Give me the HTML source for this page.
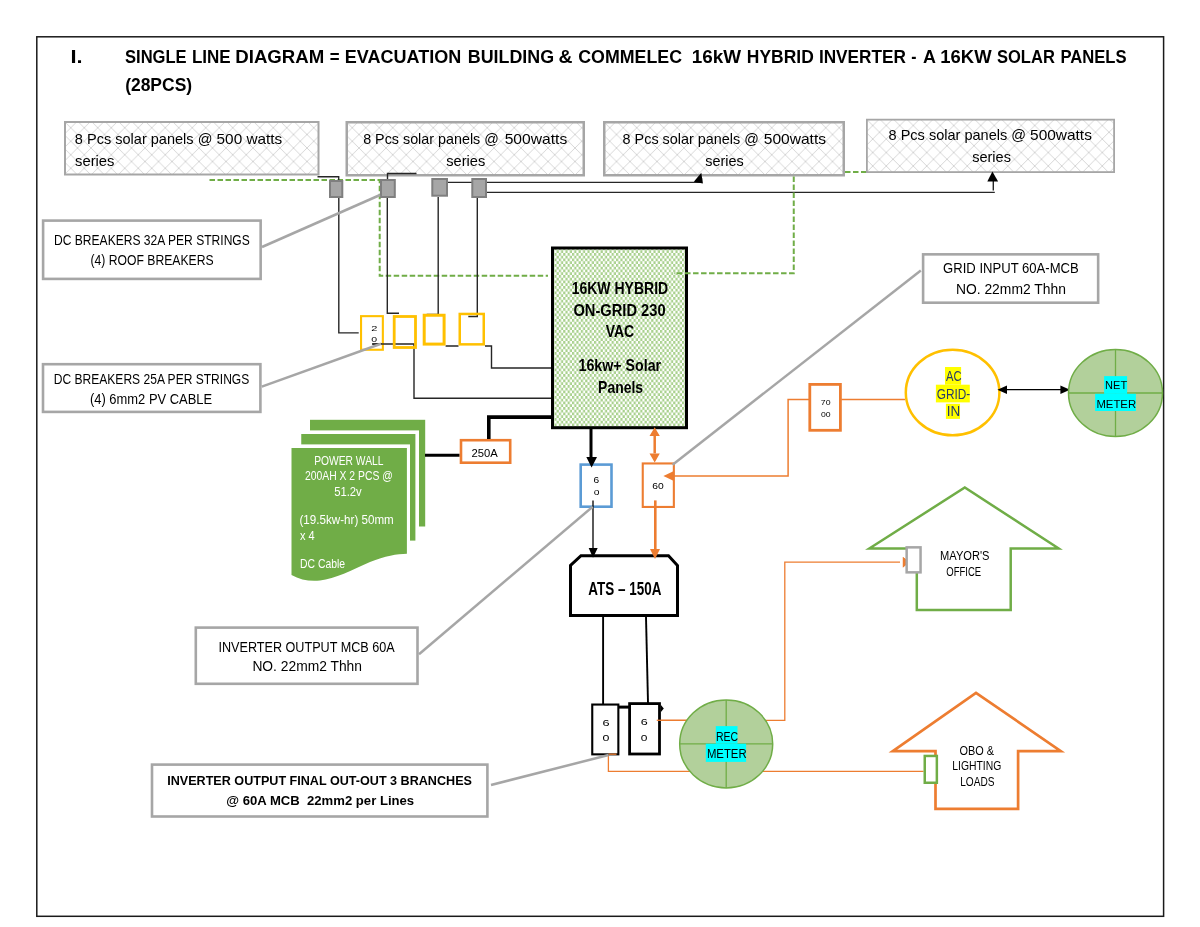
<!DOCTYPE html>
<html><head><meta charset="utf-8"><style>
html,body{margin:0;padding:0;background:#fff;width:1200px;height:927px;overflow:hidden}
svg{display:block;font-family:"Liberation Sans",sans-serif;will-change:transform}
text{white-space:pre}
</style></head><body>
<svg xml:space="preserve" width="1200" height="927" viewBox="0 0 1200 927">
<defs>
<pattern id="dots" width="4.4" height="5.5" patternUnits="userSpaceOnUse">
<rect width="4.4" height="5.5" fill="#fff"/>
<rect width="2.2" height="2.75" fill="#a9d18e"/><rect x="2.2" y="2.75" width="2.2" height="2.75" fill="#a9d18e"/>
</pattern>
</defs>
<rect width="1200" height="927" fill="#fff"/>

<rect x="36.8" y="36.8" width="1126.8" height="879.5" fill="none" stroke="#1a1a1a" stroke-width="1.5"/>
<text x="70.59" y="62.8" font-size="18.2" textLength="12.09" lengthAdjust="spacingAndGlyphs" font-weight="bold">I.</text>
<text x="125.0" y="62.8" font-size="18.2" textLength="61.62" lengthAdjust="spacingAndGlyphs" font-weight="bold">SINGLE</text>
<text x="191.89" y="62.8" font-size="18.2" textLength="38.75" lengthAdjust="spacingAndGlyphs" font-weight="bold">LINE</text>
<text x="235.29" y="62.8" font-size="18.2" textLength="88.97" lengthAdjust="spacingAndGlyphs" font-weight="bold">DIAGRAM</text>
<text x="329.83" y="62.8" font-size="18.2" textLength="9.83" lengthAdjust="spacingAndGlyphs" font-weight="bold">=</text>
<text x="344.83" y="62.8" font-size="18.2" textLength="116.4" lengthAdjust="spacingAndGlyphs" font-weight="bold">EVACUATION</text>
<text x="467.84" y="62.8" font-size="18.2" textLength="86.29" lengthAdjust="spacingAndGlyphs" font-weight="bold">BUILDING</text>
<text x="558.63" y="62.8" font-size="18.2" textLength="14.0" lengthAdjust="spacingAndGlyphs" font-weight="bold">&amp;</text>
<text x="578.29" y="62.8" font-size="18.2" textLength="103.71" lengthAdjust="spacingAndGlyphs" font-weight="bold">COMMELEC</text>
<text x="691.77" y="62.8" font-size="18.2" textLength="49.27" lengthAdjust="spacingAndGlyphs" font-weight="bold">16kW</text>
<text x="746.87" y="62.8" font-size="18.2" textLength="66.89" lengthAdjust="spacingAndGlyphs" font-weight="bold">HYBRID</text>
<text x="818.88" y="62.8" font-size="18.2" textLength="86.99" lengthAdjust="spacingAndGlyphs" font-weight="bold">INVERTER</text>
<text x="911.37" y="62.8" font-size="18.2" textLength="5.22" lengthAdjust="spacingAndGlyphs" font-weight="bold">-</text>
<text x="923.05" y="62.8" font-size="18.2" textLength="12.93" lengthAdjust="spacingAndGlyphs" font-weight="bold">A</text>
<text x="940.3" y="62.8" font-size="18.2" textLength="51.26" lengthAdjust="spacingAndGlyphs" font-weight="bold">16KW</text>
<text x="997.0" y="62.8" font-size="18.2" textLength="57.83" lengthAdjust="spacingAndGlyphs" font-weight="bold">SOLAR</text>
<text x="1060.42" y="62.8" font-size="18.2" textLength="66.2" lengthAdjust="spacingAndGlyphs" font-weight="bold">PANELS</text>
<text x="125.13" y="91.3" font-size="18.2" textLength="66.99" lengthAdjust="spacingAndGlyphs" font-weight="bold">(28PCS)</text>
<defs><pattern id="hatch1" x="64" y="121" width="13.5" height="13.5" patternUnits="userSpaceOnUse"><path d="M0,0 L13.5,13.5 M13.5,0 L0,13.5" stroke="#d2d2d2" stroke-width="0.9" fill="none"/></pattern></defs>
<rect x="65.0" y="122.0" width="253.5" height="52.5" fill="url(#hatch1)" stroke="#a6a6a6" stroke-width="2"/>
<text x="74.85" y="143.9" font-size="14.8" textLength="137.58" lengthAdjust="spacingAndGlyphs">8 Pcs solar panels @</text>
<text x="216.59" y="143.9" font-size="14.8" textLength="65.71" lengthAdjust="spacingAndGlyphs">500 watts</text>
<text x="75.06" y="165.6" font-size="14.8" textLength="39.42" lengthAdjust="spacingAndGlyphs">series</text>
<defs><pattern id="hatch2" x="345.5" y="121" width="13.5" height="13.5" patternUnits="userSpaceOnUse"><path d="M0,0 L13.5,13.5 M13.5,0 L0,13.5" stroke="#d2d2d2" stroke-width="0.9" fill="none"/></pattern></defs>
<rect x="346.75" y="122.25" width="237.0" height="53.0" fill="url(#hatch2)" stroke="#a6a6a6" stroke-width="2.5"/>
<text x="363.16" y="143.9" font-size="14.8" textLength="135.65" lengthAdjust="spacingAndGlyphs">8 Pcs solar panels @</text>
<text x="504.67" y="143.9" font-size="14.8" textLength="62.58" lengthAdjust="spacingAndGlyphs">500watts</text>
<text x="446.26" y="165.6" font-size="14.8" textLength="39.02" lengthAdjust="spacingAndGlyphs">series</text>
<defs><pattern id="hatch3" x="603" y="121" width="13.5" height="13.5" patternUnits="userSpaceOnUse"><path d="M0,0 L13.5,13.5 M13.5,0 L0,13.5" stroke="#d2d2d2" stroke-width="0.9" fill="none"/></pattern></defs>
<rect x="604.25" y="122.25" width="239.5" height="53.0" fill="url(#hatch3)" stroke="#a6a6a6" stroke-width="2.5"/>
<text x="622.6" y="143.9" font-size="14.8" textLength="136.21" lengthAdjust="spacingAndGlyphs">8 Pcs solar panels @</text>
<text x="763.78" y="143.9" font-size="14.8" textLength="62.23" lengthAdjust="spacingAndGlyphs">500watts</text>
<text x="705.32" y="165.6" font-size="14.8" textLength="38.45" lengthAdjust="spacingAndGlyphs">series</text>
<defs><pattern id="hatch4" x="866" y="118.75" width="13.5" height="13.5" patternUnits="userSpaceOnUse"><path d="M0,0 L13.5,13.5 M13.5,0 L0,13.5" stroke="#d2d2d2" stroke-width="0.9" fill="none"/></pattern></defs>
<rect x="866.9" y="119.65" width="247.2" height="52.45" fill="url(#hatch4)" stroke="#a6a6a6" stroke-width="1.8"/>
<text x="888.55" y="140.3" font-size="14.8" textLength="137.47" lengthAdjust="spacingAndGlyphs">8 Pcs solar panels @</text>
<text x="1030.08" y="140.3" font-size="14.8" textLength="61.82" lengthAdjust="spacingAndGlyphs">500watts</text>
<text x="972.16" y="162" font-size="14.8" textLength="38.81" lengthAdjust="spacingAndGlyphs">series</text>
<path d="M209.5,180 H379.7 V275.8 H548" fill="none" stroke="#70ad47" stroke-width="2" stroke-dasharray="5.5,2.5"/>
<path d="M845,172 H866" fill="none" stroke="#70ad47" stroke-width="2" stroke-dasharray="5.5,2.5"/>
<path d="M317.5,176.7 H338.7 V180" fill="none" stroke="#262626" stroke-width="1.4"/>
<path d="M387.5,180 V173.5 H416.5" fill="none" stroke="#262626" stroke-width="1.4"/>
<path d="M338.8,198 V332.9 H358.7" fill="none" stroke="#262626" stroke-width="1.4"/>
<path d="M387.3,198 V313.3 H399" fill="none" stroke="#262626" stroke-width="1.4"/>
<path d="M438.2,197 V314.4 H426.7" fill="none" stroke="#262626" stroke-width="1.4"/>
<path d="M477.3,198 V316.5 H468.3" fill="none" stroke="#262626" stroke-width="1.4"/>
<path d="M448,182.4 H701.5 V178" fill="none" stroke="#262626" stroke-width="1.4"/>
<path d="M693.8,181.8 L701.3,172.8 L702.9,183.6 Z" fill="#000"/>
<path d="M487,192.4 H994.8 M993.3,190.6 V181" fill="none" stroke="#262626" stroke-width="1.4"/>
<path d="M987.3,181.6 L998.1,181.6 L992.4,171.4 Z" fill="#000"/>
<path d="M372.2,344 H414 V398.3 H551" fill="none" stroke="#262626" stroke-width="1.4"/>
<path d="M445.6,346 H458.5 M485,346 H491.5 V368 H551" fill="none" stroke="#262626" stroke-width="1.4"/>
<rect x="330" y="181" width="12.300000000000011" height="16" fill="#a6a6a6" stroke="#7f7f7f" stroke-width="2"/>
<rect x="381" y="180" width="13.800000000000011" height="17" fill="#a6a6a6" stroke="#7f7f7f" stroke-width="2"/>
<rect x="432.3" y="179" width="14.699999999999989" height="16.69999999999999" fill="#a6a6a6" stroke="#7f7f7f" stroke-width="2"/>
<rect x="472.3" y="179" width="13.699999999999989" height="18" fill="#a6a6a6" stroke="#7f7f7f" stroke-width="2"/>
<rect x="361.05" y="316.15000000000003" width="21.799999999999976" height="33.59999999999999" fill="none" stroke="#ffc000" stroke-width="2.1"/>
<rect x="394.2" y="316.5" width="21.299999999999965" height="30.999999999999954" fill="none" stroke="#ffc000" stroke-width="2.8"/>
<rect x="424.2" y="315.25" width="19.900000000000034" height="28.850000000000023" fill="none" stroke="#ffc000" stroke-width="3"/>
<rect x="459.75" y="313.95" width="24.0" height="30.400000000000034" fill="none" stroke="#ffc000" stroke-width="2.5"/>
<text x="371.25" y="330.6" font-size="8" textLength="6.11" lengthAdjust="spacingAndGlyphs">2</text>
<text x="371.38" y="342.1" font-size="8" textLength="5.85" lengthAdjust="spacingAndGlyphs">0</text>
<path d="M372.2,344 H384" fill="none" stroke="#262626" stroke-width="1.4"/>
<rect x="43.099999999999994" y="220.60000000000002" width="217.54999999999998" height="58.299999999999976" fill="#fff" stroke="#a6a6a6" stroke-width="2.6"/>
<text x="54.03" y="245" font-size="14.4" textLength="195.79" lengthAdjust="spacingAndGlyphs">DC BREAKERS 32A PER STRINGS</text>
<text x="90.52" y="264.5" font-size="14.4" textLength="123.07" lengthAdjust="spacingAndGlyphs">(4) ROOF BREAKERS</text>
<path d="M262,247 L380,195" stroke="#a6a6a6" stroke-width="2.5" fill="none"/>
<rect x="42.99999999999999" y="364.20000000000005" width="217.4" height="47.69999999999995" fill="#fff" stroke="#a6a6a6" stroke-width="2.6"/>
<text x="53.79" y="384.3" font-size="14.4" textLength="195.49" lengthAdjust="spacingAndGlyphs">DC BREAKERS 25A PER STRINGS</text>
<text x="89.97" y="404" font-size="14.4" textLength="122.18" lengthAdjust="spacingAndGlyphs">(4) 6mm2 PV CABLE</text>
<path d="M261.8,386.6 L381,343.8" stroke="#a6a6a6" stroke-width="2.5" fill="none"/>
<rect x="552.5" y="248" width="134" height="179.7" fill="url(#dots)" stroke="#000" stroke-width="3"/>
<path d="M793.75,176.5 V273.3 H674" fill="none" stroke="#70ad47" stroke-width="2" stroke-dasharray="5.5,2.5"/>
<text x="571.69" y="294" font-size="17.3" textLength="96.47" lengthAdjust="spacingAndGlyphs" font-weight="bold">16KW HYBRID</text>
<text x="573.41" y="315.6" font-size="17.3" textLength="92.17" lengthAdjust="spacingAndGlyphs" font-weight="bold">ON-GRID 230</text>
<text x="605.66" y="337.4" font-size="17.3" textLength="28.42" lengthAdjust="spacingAndGlyphs" font-weight="bold">VAC</text>
<text x="578.48" y="370.8" font-size="17.3" textLength="82.63" lengthAdjust="spacingAndGlyphs" font-weight="bold">16kw+ Solar</text>
<text x="598.09" y="392.6" font-size="17.3" textLength="44.95" lengthAdjust="spacingAndGlyphs" font-weight="bold">Panels</text>
<rect x="310" y="419.8" width="115.2" height="106.7" fill="#70ad47"/>
<rect x="301.25" y="430.4" width="117.75" height="110.2" fill="#fff"/>
<rect x="301.25" y="434" width="114.15" height="106.6" fill="#70ad47"/>
<rect x="291.5" y="444.4" width="118.5" height="110" fill="#fff"/>
<path d="M291.5,448 H406.9 V553.8 C397,554 385,556 370,562 C352,570 335,579 320,580.5 C310,581.5 300,580 291.5,575 Z" fill="#70ad47"/>
<text x="314.18" y="464.5" font-size="12.8" textLength="69.25" lengthAdjust="spacingAndGlyphs" fill="#fff">POWER WALL</text>
<text x="304.88" y="479.8" font-size="12.8" textLength="87.89" lengthAdjust="spacingAndGlyphs" fill="#fff">200AH X 2 PCS @</text>
<text x="334.15" y="495.8" font-size="12.8" textLength="27.62" lengthAdjust="spacingAndGlyphs" fill="#fff">51.2v</text>
<text x="299.5" y="524.4" font-size="12.8" textLength="94.29" lengthAdjust="spacingAndGlyphs" fill="#fff">(19.5kw-hr) 50mm</text>
<text x="300.03" y="539.6" font-size="12.8" textLength="14.68" lengthAdjust="spacingAndGlyphs" fill="#fff">x 4</text>
<text x="299.97" y="567.7" font-size="12.8" textLength="45.1" lengthAdjust="spacingAndGlyphs" fill="#fff">DC Cable</text>
<path d="M425,455.2 H459.6" stroke="#000" stroke-width="3"/>
<rect x="461" y="440.2" width="49.2" height="22.5" fill="#fff" stroke="#ed7d31" stroke-width="2.6"/>
<text x="471.44" y="456.7" font-size="10.5" textLength="26.27" lengthAdjust="spacingAndGlyphs">250A</text>
<path d="M488.8,439 V417.1 H551" fill="none" stroke="#000" stroke-width="3.6"/>
<path d="M581,555.7 H668.5 L677.5,565.5 V615.5 H570.5 V565.5 Z" fill="#fff" stroke="#000" stroke-width="3"/>
<rect x="580.7" y="464.6" width="30.8" height="42.1" fill="#fff" stroke="#5b9bd5" stroke-width="2.6"/>
<rect x="642.75" y="463.45" width="31.1" height="43.5" fill="#fff" stroke="#ed7d31" stroke-width="2.1"/>
<path d="M591,429 V458" stroke="#000" stroke-width="3"/>
<path d="M586.3,457 L597,457 L591.6,467.4 Z" fill="#000"/>
<text x="593.59" y="482.9" font-size="9.5" textLength="5.68" lengthAdjust="spacingAndGlyphs">6</text>
<text x="593.69" y="495" font-size="9.5" textLength="5.74" lengthAdjust="spacingAndGlyphs">o</text>
<path d="M593,500.4 V549" stroke="#000" stroke-width="1.3"/>
<path d="M588.7,548 L597.7,548 L593,557.7 Z" fill="#000"/>
<text x="652.39" y="488.7" font-size="9" textLength="11.45" lengthAdjust="spacingAndGlyphs">60</text>
<path d="M654.7,436 V453.4" stroke="#ed7d31" stroke-width="2.5"/>
<path d="M649.5,436 L659.8,436 L654.7,427.2 Z M649.5,453.4 L659.8,453.4 L654.7,462.6 Z" fill="#ed7d31"/>
<path d="M655.3,500.4 V550" stroke="#ed7d31" stroke-width="2.6"/>
<path d="M650,549 L660,549 L655,559 Z" fill="#ed7d31"/>
<path d="M809,399.5 H788.1 V475.9 H673" fill="none" stroke="#ed7d31" stroke-width="1.5"/>
<path d="M673.9,470.9 L673.9,481 L663.4,476 Z" fill="#ed7d31"/>
<rect x="809.8" y="384.4" width="30.6" height="45.9" fill="#fff" stroke="#ed7d31" stroke-width="2.8"/>
<text x="820.86" y="404.8" font-size="8" textLength="9.71" lengthAdjust="spacingAndGlyphs">70</text>
<text x="820.95" y="416.8" font-size="8" textLength="9.61" lengthAdjust="spacingAndGlyphs">00</text>
<path d="M841.3,399.5 H905" stroke="#ed7d31" stroke-width="1.5"/>
<ellipse cx="952.6" cy="392.5" rx="46.8" ry="42.8" fill="#fff" stroke="#ffc000" stroke-width="2.5"/>
<rect x="945" y="367" width="16.1" height="17.7" fill="#ffff00"/>
<rect x="935.9" y="384.7" width="33.9" height="17.7" fill="#ffff00"/>
<rect x="945.9" y="403.8" width="14.1" height="15.1" fill="#ffff00"/>
<text x="945.94" y="380.7" font-size="14" textLength="15.55" lengthAdjust="spacingAndGlyphs" fill="#263a6b">AC</text>
<text x="936.71" y="398.9" font-size="14" textLength="33.5" lengthAdjust="spacingAndGlyphs" fill="#263a6b">GRID-</text>
<text x="946.79" y="416.4" font-size="14" textLength="13.49" lengthAdjust="spacingAndGlyphs" fill="#263a6b">IN</text>
<path d="M1006,389.7 H1061" stroke="#000" stroke-width="1.3"/>
<path d="M997.4,389.7 L1007,385.5 L1007,393.9 Z M1070,389.7 L1060.4,385.5 L1060.4,393.9 Z" fill="#000"/>
<ellipse cx="1115.5" cy="393" rx="47" ry="43.5" fill="#b2d09b" stroke="#70ad47" stroke-width="1.5"/>
<path d="M1068.5,393 H1162.5 M1115.5,349.5 V436.5" stroke="#70ad47" stroke-width="1.3"/>
<rect x="1104.1" y="376.1" width="23" height="17.8" fill="#00ffff"/>
<rect x="1095.1" y="393.8" width="40.8" height="17.2" fill="#00ffff"/>
<text x="1105.12" y="388.9" font-size="11.8" textLength="22.0" lengthAdjust="spacingAndGlyphs">NET</text>
<text x="1096.39" y="407.6" font-size="11.8" textLength="39.72" lengthAdjust="spacingAndGlyphs">METER</text>
<rect x="923.0999999999999" y="254.35000000000002" width="175.0500000000001" height="48.34999999999999" fill="#fff" stroke="#a6a6a6" stroke-width="2.6"/>
<text x="943.1" y="273.3" font-size="14.4" textLength="135.59" lengthAdjust="spacingAndGlyphs">GRID INPUT 60A-MCB</text>
<text x="955.89" y="294" font-size="14.4" textLength="110.0" lengthAdjust="spacingAndGlyphs">NO. 22mm2 Thhn</text>
<path d="M920.8,270.4 L672.6,464.8" stroke="#a6a6a6" stroke-width="2.5" fill="none"/>
<text x="588.36" y="594.5" font-size="18.3" textLength="73.02" lengthAdjust="spacingAndGlyphs" font-weight="bold">ATS – 150A</text>
<rect x="195.8" y="627.5999999999999" width="221.70000000000002" height="56.20000000000007" fill="#fff" stroke="#a6a6a6" stroke-width="2.6"/>
<text x="218.46" y="651.7" font-size="14.4" textLength="176.25" lengthAdjust="spacingAndGlyphs">INVERTER OUTPUT MCB 60A</text>
<text x="252.39" y="671.4" font-size="14.4" textLength="109.6" lengthAdjust="spacingAndGlyphs">NO. 22mm2 Thhn</text>
<path d="M419,654.3 L592.7,506.7" stroke="#a6a6a6" stroke-width="2.5" fill="none"/>
<path d="M603.1,617 V704" stroke="#000" stroke-width="1.9"/>
<path d="M646,617 L648,703" stroke="#000" stroke-width="1.9"/>
<path d="M656.75,720.3 H784.8 V562.1 H900" fill="none" stroke="#ed7d31" stroke-width="1.3"/>
<path d="M902.9,556.9 L909.5,562.1 L902.9,567.4 Z" fill="#ed7d31"/>
<path d="M608.4,754 V771.4 H923.5" fill="none" stroke="#ed7d31" stroke-width="1.3"/>
<rect x="592.25" y="704.55" width="26.1" height="49.8" fill="#fff" stroke="#000" stroke-width="2.1"/>
<rect x="629.6" y="703.6" width="29.9" height="50.4" fill="#fff" stroke="#000" stroke-width="2.8"/>
<path d="M619,707.1 H629" stroke="#000" stroke-width="3"/>
<path d="M660.9,705 L663.8,708.5 L660.9,712 Z" fill="#000"/>
<text x="602.46" y="725.6" font-size="9" textLength="7.13" lengthAdjust="spacingAndGlyphs">6</text>
<text x="602.6" y="741.4" font-size="9" textLength="6.91" lengthAdjust="spacingAndGlyphs">0</text>
<text x="640.67" y="724.8" font-size="9" textLength="7.01" lengthAdjust="spacingAndGlyphs">6</text>
<text x="640.82" y="741.4" font-size="9" textLength="6.67" lengthAdjust="spacingAndGlyphs">0</text>
<path d="M608.4,754.2 H616.5" stroke="#ed7d31" stroke-width="1.3"/>
<path d="M656.75,720.3 H687" stroke="#ed7d31" stroke-width="1.3"/>
<ellipse cx="726.2" cy="743.9" rx="46.5" ry="44" fill="#b2d09b" stroke="#70ad47" stroke-width="1.5"/>
<path d="M679.7,743.9 H772.7 M726.2,699.9 V787.9" stroke="#70ad47" stroke-width="1.3"/>
<rect x="715.8" y="726.1" width="21.7" height="17.6" fill="#00ffff"/>
<rect x="705.8" y="743.7" width="40.3" height="18.2" fill="#00ffff"/>
<text x="715.96" y="740.5" font-size="12.3" textLength="22.18" lengthAdjust="spacingAndGlyphs">REC</text>
<text x="706.89" y="757.8" font-size="12.3" textLength="39.72" lengthAdjust="spacingAndGlyphs">METER</text>
<rect x="152.00000000000003" y="764.5999999999999" width="335.4" height="51.90000000000011" fill="#fff" stroke="#a6a6a6" stroke-width="2.6"/>
<text x="167.18" y="785.2" font-size="13.6" textLength="304.76" lengthAdjust="spacingAndGlyphs" font-weight="bold">INVERTER OUTPUT FINAL OUT-OUT 3 BRANCHES</text>
<text x="226.28" y="805.2" font-size="13.6" textLength="187.87" lengthAdjust="spacingAndGlyphs" font-weight="bold">@ 60A MCB  22mm2 per Lines</text>
<path d="M491,785 L608.6,755" stroke="#a6a6a6" stroke-width="2.5" fill="none"/>
<path d="M869.3,548.5 L964.8,487.5 L1058.7,548.5 L1010.7,548.5 V610 H916.8 V548.5 Z" fill="#fff" stroke="#70ad47" stroke-width="2.5"/>
<path d="M902.9,556.9 L909.5,562.1 L902.9,567.4 Z" fill="#ed7d31"/>
<rect x="906.65" y="547.35" width="13.9" height="25" fill="#fff" stroke="#a6a6a6" stroke-width="2.5"/>
<text x="940.11" y="560.3" font-size="12" textLength="49.4" lengthAdjust="spacingAndGlyphs">MAYOR'S</text>
<text x="946.37" y="575.5" font-size="12" textLength="34.82" lengthAdjust="spacingAndGlyphs">OFFICE</text>
<path d="M892.8,751.2 L976,692.8 L1060.8,751.2 H1018.1 V808.8 H935.5 V751.2 Z" fill="#fff" stroke="#ed7d31" stroke-width="2.7"/>
<rect x="924.75" y="755.95" width="12.1" height="26.8" fill="#fff" stroke="#70ad47" stroke-width="2.5"/>
<text x="959.41" y="754.9" font-size="12.3" textLength="34.58" lengthAdjust="spacingAndGlyphs">OBO &amp;</text>
<text x="952.27" y="769.7" font-size="12.3" textLength="48.98" lengthAdjust="spacingAndGlyphs">LIGHTING</text>
<text x="960.19" y="786" font-size="12.3" textLength="34.37" lengthAdjust="spacingAndGlyphs">LOADS</text>
</svg></body></html>
